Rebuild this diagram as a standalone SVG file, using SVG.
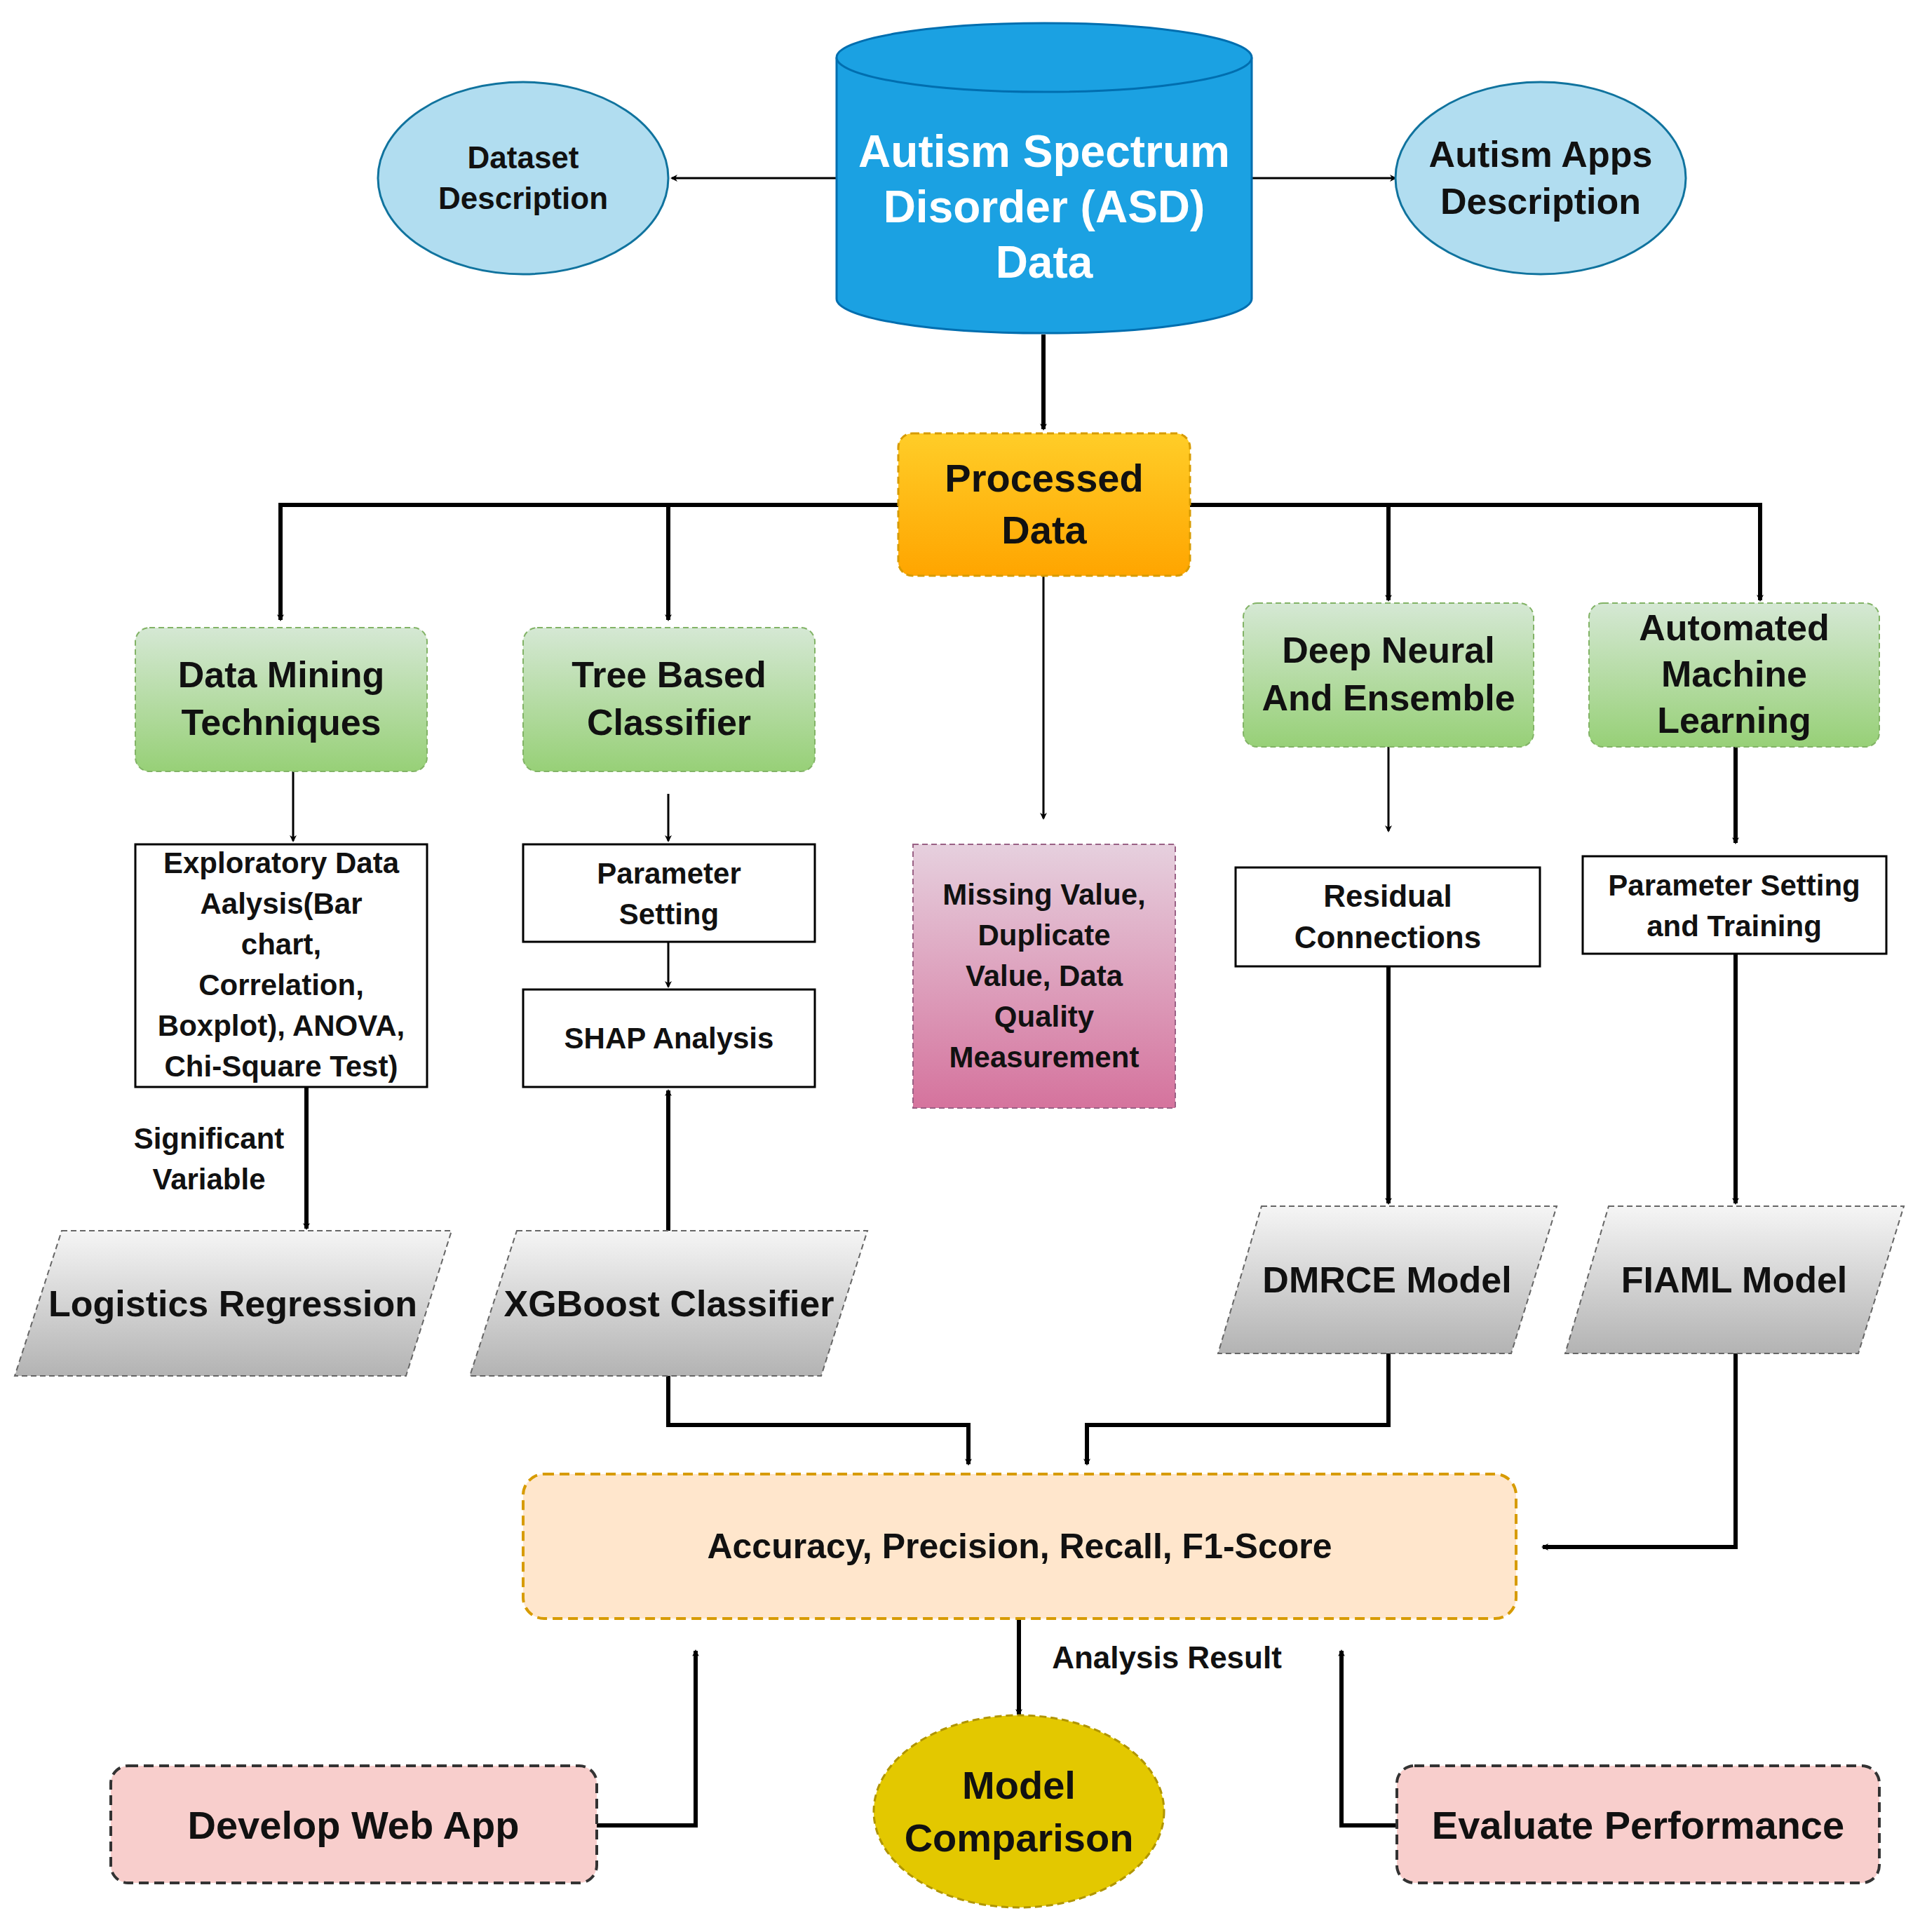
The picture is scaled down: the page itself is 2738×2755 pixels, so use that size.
<svg xmlns="http://www.w3.org/2000/svg" width="2738" height="2755" viewBox="0 0 2738 2755">
<defs>
<marker id="ah" markerWidth="10" markerHeight="10" refX="8" refY="5" orient="auto" markerUnits="userSpaceOnUse" viewBox="0 0 10 10"><path d="M0,0 L10,5 L0,10 L3,5 z" fill="#000"/></marker>
<linearGradient id="og" x1="0" y1="0" x2="0" y2="1"><stop offset="0" stop-color="#ffcd28"/><stop offset="1" stop-color="#ffa500"/></linearGradient>
<linearGradient id="gg" x1="0" y1="0" x2="0" y2="1"><stop offset="0" stop-color="#d5e8d4"/><stop offset="1" stop-color="#97d077"/></linearGradient>
<linearGradient id="pg" x1="0" y1="0" x2="0" y2="1"><stop offset="0" stop-color="#e6d0de"/><stop offset="1" stop-color="#d5739d"/></linearGradient>
<linearGradient id="sg" x1="0" y1="0" x2="0" y2="1"><stop offset="0" stop-color="#f5f5f5"/><stop offset="1" stop-color="#b3b3b3"/></linearGradient>
</defs>
<style>
text{font-family:"Liberation Sans",Arial,sans-serif;font-weight:bold;text-anchor:middle;fill:#111}
.c{fill:none;stroke:#000;stroke-width:3}
.t{fill:none;stroke:#000;stroke-width:6}
.w{fill:#fff;stroke:#000;stroke-width:3}
.g{fill:url(#gg);stroke:#82b366;stroke-width:2;stroke-dasharray:8 5}
.s{fill:url(#sg);stroke:#666;stroke-width:2;stroke-dasharray:8 5}
.r{fill:#f8cecc;stroke:#333;stroke-width:4;stroke-dasharray:14 8}
</style>
<rect width="2738" height="2755" fill="#fff"/>
<g id="connectors">
<path class="c" d="M1193,254 L958,254" marker-end="url(#ah)" style="stroke-width:3"/>
<path class="c" d="M1785,254 L1990,254" marker-end="url(#ah)"/>
<path class="t" d="M1488,477 L1488,612" marker-end="url(#ah)"/>
<path class="t" d="M1281,720 L400,720 L400,884" marker-end="url(#ah)"/>
<path class="t" d="M953,720 L953,884" marker-end="url(#ah)"/>
<path class="t" d="M1697,720 L2510,720 L2510,856" marker-end="url(#ah)"/>
<path class="t" d="M1980,720 L1980,856" marker-end="url(#ah)"/>
<path class="c" d="M1488,821 L1488,1167" marker-end="url(#ah)"/>
<path class="c" d="M418,1100 L418,1199" marker-end="url(#ah)"/>
<path class="t" d="M437,1550 L437,1752" marker-end="url(#ah)"/>
<path class="c" d="M953,1132 L953,1199" marker-end="url(#ah)"/>
<path class="c" d="M953,1343 L953,1407" marker-end="url(#ah)"/>
<path class="t" d="M953,1755 L953,1555" marker-end="url(#ah)"/>
<path class="c" d="M1980,1065 L1980,1185" marker-end="url(#ah)"/>
<path class="t" d="M1980,1378 L1980,1716" marker-end="url(#ah)"/>
<path class="t" d="M2475,1065 L2475,1202" marker-end="url(#ah)"/>
<path class="t" d="M2475,1360 L2475,1716" marker-end="url(#ah)"/>
<path class="t" d="M953,1962 L953,2032 L1381,2032 L1381,2088" marker-end="url(#ah)"/>
<path class="t" d="M1980,1930 L1980,2032 L1550,2032 L1550,2088" marker-end="url(#ah)"/>
<path class="t" d="M2475,1930 L2475,2206 L2200,2206" marker-end="url(#ah)"/>
<path class="t" d="M1453,2308 L1453,2445" marker-end="url(#ah)"/>
<path class="t" d="M851,2603 L992,2603 L992,2354" marker-end="url(#ah)"/>
<path class="t" d="M1992,2603 L1913,2603 L1913,2354" marker-end="url(#ah)"/>
<text x="298" y="1638" font-size="42">Significant</text>
<text x="298" y="1696" font-size="42">Variable</text>
<text x="1664" y="2379" font-size="44">Analysis Result</text>
</g>
<g id="asd">
<path d="M1193,82 L1193,426 A296,49 0 0 0 1785,426 L1785,82" fill="#1ba1e2" stroke="#006eaf" stroke-width="3"/>
<ellipse cx="1489" cy="82" rx="296" ry="49" fill="#1ba1e2" stroke="#006eaf" stroke-width="3"/>
<text x="1489" y="238" font-size="64" style="fill:#fff">Autism Spectrum</text>
<text x="1489" y="317" font-size="64" style="fill:#fff">Disorder (ASD)</text>
<text x="1489" y="396" font-size="64" style="fill:#fff">Data</text>
</g>
<g id="dataset"><ellipse cx="746" cy="254" rx="207" ry="137" fill="#b1ddf0" stroke="#10739e" stroke-width="3"/>
<text x="746" y="240" font-size="44">Dataset</text><text x="746" y="298" font-size="44">Description</text></g>
<g id="apps"><ellipse cx="2197" cy="254" rx="207" ry="137" fill="#b1ddf0" stroke="#10739e" stroke-width="3"/>
<text x="2197" y="238" font-size="52">Autism Apps</text><text x="2197" y="305" font-size="52">Description</text></g>
<g id="processed"><rect x="1281" y="618" width="416" height="203" rx="20" fill="url(#og)" stroke="#d79b00" stroke-width="3" stroke-dasharray="10 6"/>
<text x="1489" y="701" font-size="56">Processed</text><text x="1489" y="775" font-size="56">Data</text></g>
<g id="dm"><rect class="g" x="193" y="895" width="416" height="205" rx="20"/>
<text x="401" y="980" font-size="52">Data Mining</text><text x="401" y="1048" font-size="52">Techniques</text></g>
<g id="tree"><rect class="g" x="746" y="895" width="416" height="205" rx="20"/>
<text x="954" y="980" font-size="52">Tree Based</text><text x="954" y="1048" font-size="52">Classifier</text></g>
<g id="deep"><rect class="g" x="1773" y="860" width="414" height="205" rx="20"/>
<text x="1980" y="945" font-size="52">Deep Neural</text><text x="1980" y="1013" font-size="52">And Ensemble</text></g>
<g id="auto"><rect class="g" x="2266" y="860" width="414" height="205" rx="20"/>
<text x="2473" y="913" font-size="52">Automated</text><text x="2473" y="979" font-size="52">Machine</text><text x="2473" y="1045" font-size="52">Learning</text></g>
<g id="eda"><rect class="w" x="193" y="1204" width="416" height="346"/>
<text x="401" y="1245" font-size="42">Exploratory Data</text><text x="401" y="1303" font-size="42">Aalysis(Bar</text><text x="401" y="1361" font-size="42">chart,</text><text x="401" y="1419" font-size="42">Correlation,</text><text x="401" y="1477" font-size="42">Boxplot), ANOVA,</text><text x="401" y="1535" font-size="42">Chi-Square Test)</text></g>
<g id="param"><rect class="w" x="746" y="1204" width="416" height="139"/>
<text x="954" y="1260" font-size="42">Parameter</text><text x="954" y="1318" font-size="42">Setting</text></g>
<g id="shap"><rect class="w" x="746" y="1411" width="416" height="139"/>
<text x="954" y="1495" font-size="42">SHAP Analysis</text></g>
<g id="missing"><rect x="1302" y="1204" width="374" height="376" fill="url(#pg)" stroke="#996185" stroke-width="2" stroke-dasharray="8 5"/>
<text x="1489" y="1290" font-size="42">Missing Value,</text><text x="1489" y="1348" font-size="42">Duplicate</text><text x="1489" y="1406" font-size="42">Value, Data</text><text x="1489" y="1464" font-size="42">Quality</text><text x="1489" y="1522" font-size="42">Measurement</text></g>
<g id="residual"><rect class="w" x="1762" y="1237" width="434" height="141"/>
<text x="1979" y="1293" font-size="44">Residual</text><text x="1979" y="1352" font-size="44">Connections</text></g>
<g id="pst"><rect class="w" x="2257" y="1221" width="433" height="139"/>
<text x="2473" y="1277" font-size="42">Parameter Setting</text><text x="2473" y="1335" font-size="42">and Training</text></g>
<g id="lr"><polygon class="s" points="88,1755 644,1755 579,1962 21,1962"/>
<text x="332" y="1877" font-size="52">Logistics Regression</text></g>
<g id="xgb"><polygon class="s" points="737,1755 1237,1755 1171,1962 670,1962"/>
<text x="954" y="1877" font-size="52">XGBoost Classifier</text></g>
<g id="dmrce"><polygon class="s" points="1799,1720 2220,1720 2155,1930 1737,1930"/>
<text x="1978" y="1843" font-size="52">DMRCE Model</text></g>
<g id="fiaml"><polygon class="s" points="2294,1720 2715,1720 2650,1930 2232,1930"/>
<text x="2473" y="1843" font-size="52">FIAML Model</text></g>
<g id="acc"><rect x="746" y="2102" width="1416" height="206" rx="30" fill="#ffe6cc" stroke="#d79b00" stroke-width="4" stroke-dasharray="14 8"/>
<text x="1454" y="2222" font-size="50">Accuracy, Precision, Recall, F1-Score</text></g>
<g id="model"><ellipse cx="1453" cy="2583" rx="207" ry="137" fill="#e3c800" stroke="#b09500" stroke-width="3" stroke-dasharray="10 6"/>
<text x="1453" y="2565" font-size="56">Model</text><text x="1453" y="2640" font-size="56">Comparison</text></g>
<g id="web"><rect class="r" x="158" y="2518" width="693" height="167" rx="25"/>
<text x="504" y="2622" font-size="56">Develop Web App</text></g>
<g id="eval"><rect class="r" x="1992" y="2518" width="688" height="167" rx="25"/>
<text x="2336" y="2622" font-size="56">Evaluate Performance</text></g>
</svg>
